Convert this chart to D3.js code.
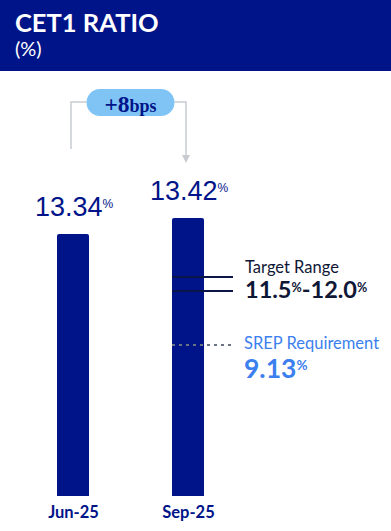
<!DOCTYPE html>
<html>
<head>
<meta charset="utf-8">
<script src="https://cdn.jsdelivr.net/npm/d3@7"></script>
<style>
  html, body { margin: 0; padding: 0; background: #ffffff; }
  svg { display: block; }
</style>
</head>
<body>
<script>
// ---- data ----
const categories = ["Jun-25", "Sep-25"];
const values = [13.34, 13.42];
const changeValue = "+8";
const changeUnit = "bps";
const targetRange = [11.5, 12.0];
const srepValue = 9.13;
const title = "CET1 RATIO";
const subtitle = "(%)";
const targetLabel = "Target Range";
const srepLabel = "SREP Requirement";

// ---- layout ----
const W = 391, H = 531;
const navy = "#001489";
const svg = d3.select("body").append("svg").attr("width", W).attr("height", H);

// header
svg.append("rect").attr("x", 0).attr("y", 0).attr("width", W).attr("height", 71).attr("fill", navy);
svg.append("text").attr("x", 15).attr("y", 32)
  .attr("font-family", "Lato").attr("font-weight", 700).attr("font-size", 25.5)
  .attr("fill", "#fff").text(title);
svg.append("text").attr("x", 15).attr("y", 56)
  .attr("font-family", "Lato").attr("font-size", 20)
  .attr("fill", "#fff").text(subtitle);

// scales (display scale, not to zero-based proportion, as in the source chart)
const x = d3.scalePoint().domain(categories).range([73, 188]);
const barW = 32;
const y = d3.scaleLinear()
  .domain([0, srepValue, targetRange[0], targetRange[1], values[0], values[1]])
  .range([496, 345, 291, 277, 234, 218]);

// bars with small rounded top
function barPath(cx, top, bottom, w, r) {
  const x0 = cx - w / 2, x1 = cx + w / 2;
  return `M${x0},${bottom}V${top + r}Q${x0},${top} ${x0 + r},${top}H${x1 - r}Q${x1},${top} ${x1},${top + r}V${bottom}Z`;
}
svg.selectAll("path.bar").data(categories).join("path")
  .attr("class", "bar")
  .attr("d", (d, i) => barPath(x(d), y(values[i]), y(0), barW, 2))
  .attr("fill", navy);

// value labels
const fmt2 = d3.format(".2f");
const vl = svg.selectAll("text.val").data(categories).join("text")
  .attr("class", "val")
  .attr("x", d => x(d) + 1)
  .attr("y", (d, i) => y(values[i]) - 18)
  .attr("text-anchor", "middle")
  .attr("font-family", "Liberation Sans, Arial, sans-serif")
  .attr("font-size", 27)
  .attr("fill", navy);
vl.append("tspan").text((d, i) => fmt2(values[i]));
vl.append("tspan").attr("dy", -8).attr("font-size", 12).text("%");

// x axis labels
const xAxis = d3.axisBottom(x).tickSize(0).tickPadding(0);
const ax = svg.append("g").attr("transform", `translate(0,${y(0)})`).call(xAxis);
ax.select(".domain").remove();
ax.selectAll("text")
  .attr("y", 22).attr("dy", 0)
  .attr("font-family", "Lato").attr("font-weight", 700).attr("font-size", 16.5)
  .attr("fill", navy);

// change bracket
const bx0 = x(categories[0]) - 2, bx1 = x(categories[1]) - 2;
const by = 102;
const pillCx = (bx0 + bx1) / 2 + 2, pillW = 88, pillH = 27;
const gray = "#c8cbd2";
svg.append("path")
  .attr("d", `M${bx0},149V${by}H${pillCx - pillW / 2}`)
  .attr("fill", "none").attr("stroke", gray).attr("stroke-width", 1.5);
svg.append("path")
  .attr("d", `M${pillCx + pillW / 2},${by}H${bx1}V${156}`)
  .attr("fill", "none").attr("stroke", gray).attr("stroke-width", 1.5);
svg.append("path")
  .attr("d", `M${bx1 - 4},${155}L${bx1 + 4},${155}L${bx1},${163}Z`)
  .attr("fill", gray);
svg.append("rect")
  .attr("x", pillCx - pillW / 2).attr("y", by - 13)
  .attr("width", pillW).attr("height", pillH).attr("rx", 13.5)
  .attr("fill", "#80c4f6");
const ct = svg.append("text").attr("x", pillCx).attr("y", 112)
  .attr("text-anchor", "middle")
  .attr("font-family", "Liberation Serif, Times New Roman, serif").attr("font-weight", 700)
  .attr("fill", navy);
ct.append("tspan").attr("font-size", 23.5).text(changeValue);
ct.append("tspan").attr("font-size", 18).text(changeUnit);

// reference lines
const lx0 = x(categories[1]) - 16, lx1 = 233;
svg.selectAll("line.tgt").data(targetRange).join("line")
  .attr("class", "tgt")
  .attr("x1", lx0).attr("x2", lx1)
  .attr("y1", d => y(d)).attr("y2", d => y(d))
  .attr("stroke", "#0c1646").attr("stroke-width", 2);
svg.append("line")
  .attr("x1", lx0).attr("x2", lx1)
  .attr("y1", y(srepValue)).attr("y2", y(srepValue))
  .attr("stroke", "#6c7383").attr("stroke-width", 2)
  .attr("stroke-dasharray", "3,4");

// reference labels
const tx = 245;
const fmt1 = d3.format(".1f");
svg.append("text").attr("x", tx).attr("y", y(targetRange[1]) - 4)
  .attr("font-family", "Lato").attr("font-size", 16.5).attr("fill", "#0f1736")
  .text(targetLabel);
const tr = svg.append("text").attr("x", tx).attr("y", y(targetRange[0]) + 7)
  .attr("font-family", "Lato").attr("font-weight", 700).attr("font-size", 23.5)
  .attr("fill", "#0f1736");
tr.append("tspan").text(fmt1(targetRange[0]));
tr.append("tspan").attr("dy", -6).attr("font-size", 12.5).text("%");
tr.append("tspan").attr("dy", 6).text("-" + fmt1(targetRange[1]));
tr.append("tspan").attr("dy", -6).attr("font-size", 12.5).text("%");

const blue = "#3b80ee";
svg.append("text").attr("x", tx - 1).attr("y", y(srepValue) + 4)
  .attr("font-family", "Lato").attr("font-size", 16.5).attr("fill", blue)
  .text(srepLabel);
const sv = svg.append("text").attr("x", tx - 1).attr("y", y(srepValue) + 33)
  .attr("font-family", "Lato").attr("font-weight", 700).attr("font-size", 26.5)
  .attr("fill", blue);
sv.append("tspan").text(fmt2(srepValue));
sv.append("tspan").attr("dy", -8).attr("font-size", 13.5).text("%");
</script>
</body>
</html>
